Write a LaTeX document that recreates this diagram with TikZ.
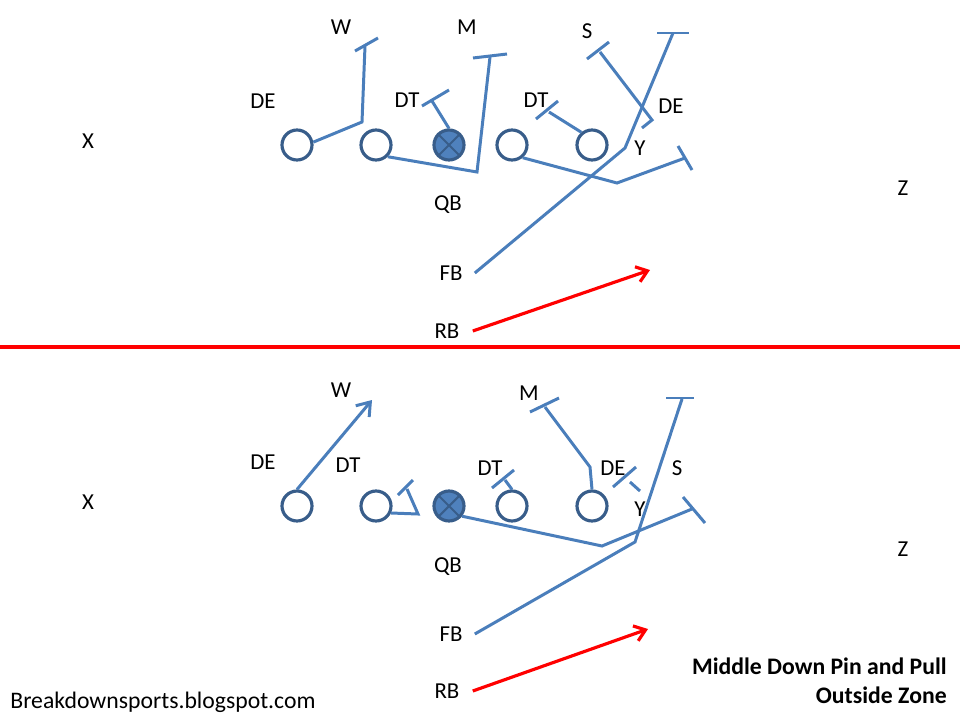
\documentclass[tikz,border=0pt]{standalone}
\usepackage{fontspec}
\setmainfont{Carlito}
\usepackage{tikz}
\usetikzlibrary{arrows.meta}

\definecolor{routeblue}{RGB}{74,126,187}
\definecolor{ringblue}{RGB}{56,93,138}
\definecolor{snapfill}{RGB}{79,129,189}

\begin{document}
\begin{tikzpicture}[
		x = 0.02cm, y = -0.02cm,
		every node/.style = {inner sep = 0pt, font = \fontsize{13}{15}\selectfont},
		player/.style = {draw = ringblue, circle, line width = 1.8pt, minimum size = 0.6cm},
		snapper/.style = {player, fill = snapfill},
		route/.style = {draw = routeblue, line width = 1.7pt},
		run/.style = {draw = red, line width = 1.8pt, -{Straight Barb[length = 6pt, width = 9pt]}}
		]
		\useasboundingbox (0,0) rectangle (960,720);

		% Top play: offensive line
		\node[player]  (TL1) at (297,145) {};
		\node[player]  (TL2) at (376,145) {};
		\node[snapper] (TC)  at (449,145) {};
		\node[player]  (TL4) at (512,145) {};
		\node[player]  (TL5) at (592,145) {};
		\draw[ringblue, line width = 1.2pt] (TC.north west) -- (TC.south east) (TC.north east) -- (TC.south west);

		% Top play: labels
		\node (tW)   at (341,27)  {W};
		\node (tM)   at (467,27)  {M};
		\node (tS)   at (587,31)  {S};
		\node (tDE1) at (263,101) {DE};
		\node (tDT1) at (407,100) {DT};
		\node (tDT2) at (536,100) {DT};
		\node (tDE2) at (671,106) {DE};
		\node (tY)   at (640,148) {Y};
		\node (tX)   at (88,141)  {X};
		\node (tZ)   at (903,188) {Z};
		\node (tQB)  at (448,205) {QB};
		\node (tFB)  at (451,273) {FB};
		\node (tRB)  at (447,331) {RB};

		% Top play: route ends
		\coordinate (e1) at (365,46);
		\coordinate (e2) at (490,57);
		\coordinate (e3) at (432,101);
		\coordinate (e4) at (685,158);
		\coordinate (e5) at (549,112);
		\coordinate (e6) at (673,33);
		\coordinate (e7) at (600,52);
		\coordinate (e8) at (650,270);

		\draw[route] (TL1.10) -- (362,122) -- (e1);
		\draw[route] (TL2.-45) -- (477,172) -- (e2);
		\draw[route] (TC.north) -- (e3);
		\draw[route] (TL4.-50) -- (617,183) -- (e4);
		\draw[route] (TL5.130) -- (e5);
		\draw[route] ([xshift=2.4mm]tFB.east) -- (625,148) -- (e6);
		\draw[route] (642,128) -- (652,120) -- (e7);
		\draw[run] ([xshift=2.6mm]tRB.east) -- (e8);

		% Top play: blocks
		\draw[route] (355,51) -- (378,38);
		\draw[route] (473,58) -- (507,54);
		\draw[route] (422,106) -- (449,90);
		\draw[route] (678,146) -- (692,170);
		\draw[route] (536,119) -- (558,101);
		\draw[route] (657,33) -- (689,33);
		\draw[route] (587,59) -- (609,42);

		% Divider
		\draw[red, line width = 1.8pt] (0,347) -- (960,347);

		% Bottom play: offensive line
		\node[player]  (BL1) at (297,506) {};
		\node[player]  (BL2) at (376,506) {};
		\node[snapper] (BC)  at (449,506) {};
		\node[player]  (BL4) at (512,506) {};
		\node[player]  (BL5) at (592,506) {};
		\draw[ringblue, line width = 1.2pt] (BC.north west) -- (BC.south east) (BC.north east) -- (BC.south west);

		% Bottom play: labels
		\node (bW)   at (341,390) {W};
		\node (bM)   at (529,393) {M};
		\node (bDE1) at (263,462) {DE};
		\node (bDT1) at (348,465) {DT};
		\node (bDT2) at (490,468) {DT};
		\node (bDE2) at (613,468) {DE};
		\node (bS)   at (677,468) {S};
		\node (bY)   at (640,509) {Y};
		\node (bX)   at (88,502)  {X};
		\node (bZ)   at (903,549) {Z};
		\node (bQB)  at (448,567) {QB};
		\node (bFB)  at (451,634) {FB};
		\node (bRB)  at (447,691) {RB};

		% Bottom play: route ends
		\coordinate (f1) at (372,400);
		\coordinate (f2) at (407,489);
		\coordinate (f3) at (692,509);
		\coordinate (f4) at (505,480);
		\coordinate (f5) at (545,407);
		\coordinate (f6) at (630,482);
		\coordinate (f7) at (682,399);
		\coordinate (f8) at (648,629);

		\draw[route, -{Straight Barb[length = 7pt, width = 10pt]}] (BL1.north) -- (f1);
		\draw[route] (BL2.-25) -- (418,514) -- (f2);
		\draw[route] (BC.-38) -- (602,546) -- (f3);
		\draw[route] (BL4.north) -- (f4);
		\draw[route] (BL5.north) -- (590,467) -- (f5);
		\draw[route] (640,491) -- (f6);
		\draw[route] ([xshift=2.4mm]bFB.east) -- (635,542) -- (f7);
		\draw[run] ([xshift=2.6mm]bRB.east) -- (f8);

		% Bottom play: blocks
		\draw[route] (398,495) -- (413,480);
		\draw[route] (683,497) -- (705,523);
		\draw[route] (492,488) -- (514,470);
		\draw[route] (530,412) -- (559,398);
		\draw[route] (613,487) -- (636,467);
		\draw[route] (666,398) -- (694,398);

		% Captions
		\node[anchor = west] (credit) at (10,702) {\fontsize{13.5}{16}\selectfont Breakdownsports.blogspot.com};
		\node[anchor = east, align = right, font = \fontsize{13.5}{16.4}\selectfont\bfseries] (title) at (947,681)
			{Middle Down Pin and Pull\\Outside Zone};
	\end{tikzpicture}
\end{document}
